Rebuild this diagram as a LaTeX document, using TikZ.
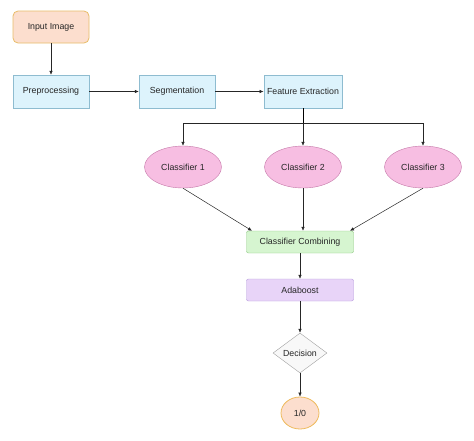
\documentclass[tikz,border=0pt]{standalone}
\usepackage{fontspec}
\setmainfont{Liberation Sans}
\usetikzlibrary{shapes.geometric, arrows.meta}

\definecolor{peachfill}{RGB}{252,222,206}
\definecolor{peachdraw}{RGB}{232,188,104}
\definecolor{bluefill}{RGB}{221,243,252}
\definecolor{bluedraw}{RGB}{142,188,208}
\definecolor{pinkfill}{RGB}{247,190,226}
\definecolor{pinkdraw}{RGB}{196,120,168}
\definecolor{greenfill}{RGB}{214,245,208}
\definecolor{greendraw}{RGB}{140,200,128}
\definecolor{purplefill}{RGB}{232,212,248}
\definecolor{purpledraw}{RGB}{178,150,218}
\definecolor{grayfill}{RGB}{248,248,248}
\definecolor{graydraw}{RGB}{160,160,160}
\definecolor{orangedraw}{RGB}{238,186,92}

\tikzset{
  every node/.style={font=\fontsize{8.8}{10}\selectfont, text=black!85},
  stepbox/.style={rectangle, draw=bluedraw, fill=bluefill, minimum width=76pt, minimum height=33pt},
  startbox/.style={rectangle, rounded corners=5pt, draw=peachdraw, fill=peachfill, line width=0.8pt, minimum width=76pt, minimum height=32pt},
  classif/.style={ellipse, draw=pinkdraw, fill=pinkfill, minimum width=77pt, minimum height=42pt, inner sep=0pt},
  wide/.style={rectangle, rounded corners=2pt, minimum width=107pt, minimum height=22pt},
  decide/.style={diamond, draw=graydraw, fill=grayfill, minimum width=54pt, minimum height=40pt, inner sep=0pt, aspect=1.35},
  result/.style={ellipse, draw=orangedraw, fill=peachfill, line width=0.8pt, minimum width=38pt, minimum height=32pt, inner sep=0pt},
  arr/.style={-{Latex[length=4pt,width=3.5pt]}, black!85, line width=0.5pt},
}

\begin{document}
\begin{tikzpicture}[node distance=126pt]
\useasboundingbox (0pt,0pt) rectangle (474pt,-440pt);

\node [startbox] (input) at (51pt,-27pt) {Input Image};
\node [stepbox, below of=input, node distance=64.5pt] (prep) {Preprocessing};
\node [stepbox, right of=prep] (segm) {Segmentation};
\node [stepbox, right of=segm] (feat) {Feature Extraction};

\coordinate [below of=feat, node distance=31.5pt] (split);

\node [classif, below of=feat, node distance=75.5pt] (clsb) {Classifier 2};
\node [classif, left of=clsb, node distance=120pt] (clsa) {Classifier 1};
\node [classif, right of=clsb, node distance=120pt] (clsc) {Classifier 3};

\node [wide, draw=greendraw, fill=greenfill, below of=clsb, node distance=75pt, xshift=-3pt] (comb) {Classifier Combining};
\node [wide, draw=purpledraw, fill=purplefill, below of=comb, node distance=48pt] (ada) {Adaboost};
\node [decide, below of=ada, node distance=63pt] (dec) {Decision};
\node [result, below of=dec, node distance=60pt] (out) {1/0};

\draw [arr] (input) -- (prep);
\draw [arr] (prep) -- (segm);
\draw [arr] (segm) -- (feat);
\draw (feat.south) -- (feat.south |- split);
\draw [arr] (feat.south |- split) -| (clsa.north);
\draw [arr] (feat.south |- split) -| (clsc.north);
\draw [arr] (feat.south |- split) -- (clsb.north);

\draw [arr] (clsa.south) -- ([xshift=-48pt]comb.north);
\draw [arr] (clsb.south) -- (clsb.south |- comb.north);
\draw [arr] (clsc.south) -- ([xshift=50pt]comb.north);
\draw [arr] (comb) -- (ada);
\draw [arr] (ada) -- (dec);
\draw [arr] (dec) -- (out);
\end{tikzpicture}
\end{document}
